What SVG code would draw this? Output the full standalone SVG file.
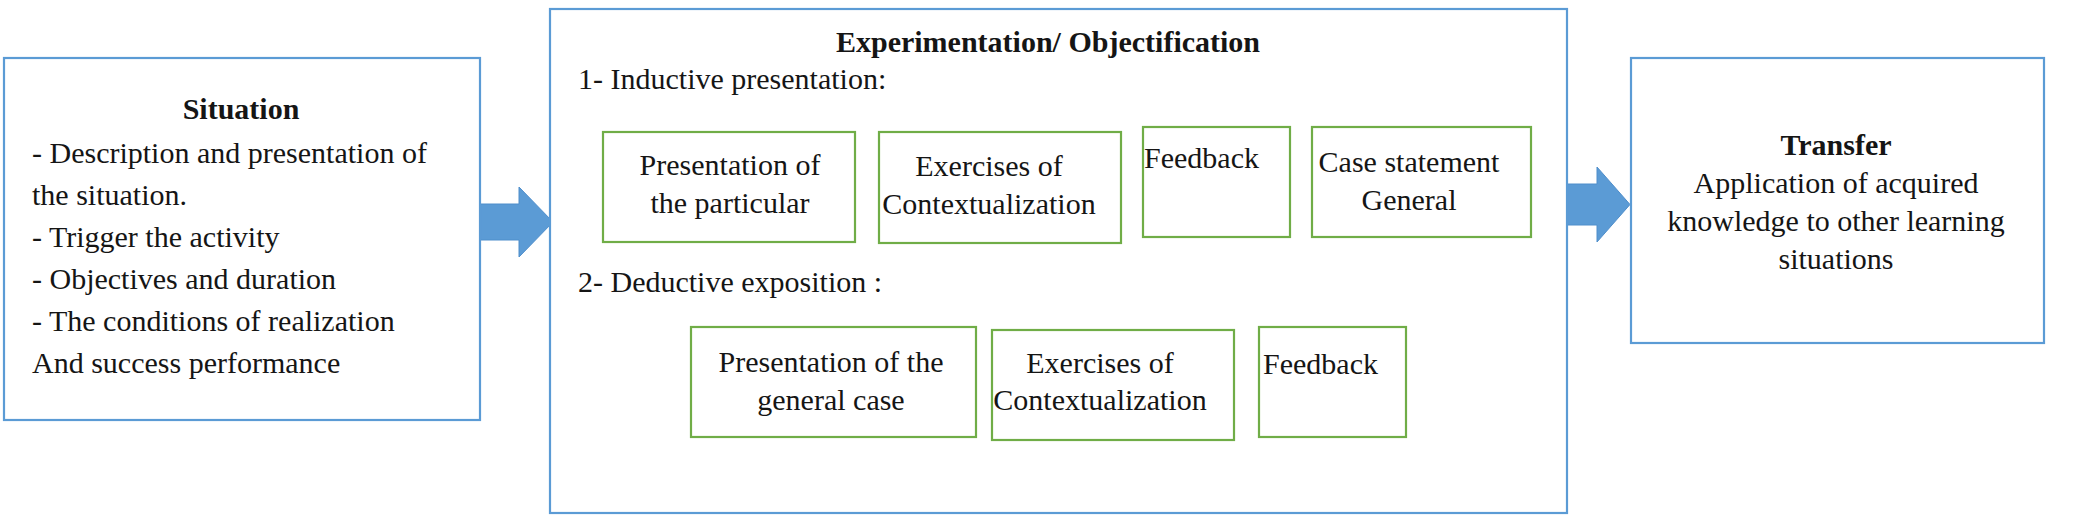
<svg xmlns="http://www.w3.org/2000/svg" width="2082" height="526" viewBox="0 0 2082 526">
<style>
.bg{fill:#ffffff}
.blue{fill:#ffffff;stroke:#5B9BD5;stroke-width:2.2}
.green{fill:#ffffff;stroke:#70AD47;stroke-width:2.2}
.arrow{fill:#5B9BD5;stroke:#4F8ECB;stroke-width:1}
text{font-family:"Liberation Serif","Times New Roman",serif;font-size:30px;fill:#151515}
.b{font-weight:bold}
.m{text-anchor:middle}
</style>
<rect class="bg" x="0" y="0" width="2082" height="526"/>
<g id="connectors">
<polygon class="arrow" points="480,204 519,204 519,187 553,222 519,257 519,240 480,240"/>
<polygon class="arrow" points="1566,184 1597,184 1597,167 1630,204.5 1597,242 1597,225 1566,225"/>
</g>
<g id="situation">
<rect class="blue" x="4" y="58" width="476" height="362"/>
<text class="b m" x="241" y="119">Situation</text>
<text x="32" y="163">- Description and presentation of</text>
<text x="32" y="205">the situation.</text>
<text x="32" y="247">- Trigger the activity</text>
<text x="32" y="289">- Objectives and duration</text>
<text x="32" y="331">- The conditions of realization</text>
<text x="32" y="373">And success performance</text>
</g>
<g id="experimentation">
<rect class="blue" x="550" y="9" width="1017" height="504"/>
<text class="b m" x="1048" y="52">Experimentation/ Objectification</text>
<text x="578" y="89">1- Inductive presentation:</text>
<text x="578" y="292">2- Deductive exposition :</text>
</g>
<g id="ind-presentation">
<rect class="green" x="603" y="132" width="252" height="110"/>
<text class="m" x="730" y="175">Presentation of</text>
<text class="m" x="730" y="213">the particular</text>
</g>
<g id="ind-exercises">
<rect class="green" x="879" y="132" width="242" height="111"/>
<text class="m" x="989" y="176">Exercises of</text>
<text class="m" x="989" y="214">Contextualization</text>
</g>
<g id="ind-feedback">
<rect class="green" x="1143" y="127" width="147" height="110"/>
<text x="1144" y="168">Feedback</text>
</g>
<g id="ind-case">
<rect class="green" x="1312" y="127" width="219" height="110"/>
<text class="m" x="1409" y="172">Case statement</text>
<text class="m" x="1409" y="210">General</text>
</g>
<g id="ded-presentation">
<rect class="green" x="691" y="327" width="285" height="110"/>
<text class="m" x="831" y="372">Presentation of the</text>
<text class="m" x="831" y="410">general case</text>
</g>
<g id="ded-exercises">
<rect class="green" x="992" y="330" width="242" height="110"/>
<text class="m" x="1100" y="373">Exercises of</text>
<text class="m" x="1100" y="410">Contextualization</text>
</g>
<g id="ded-feedback">
<rect class="green" x="1259" y="327" width="147" height="110"/>
<text x="1263" y="374">Feedback</text>
</g>
<g id="transfer">
<rect class="blue" x="1631" y="58" width="413" height="285"/>
<text class="b m" x="1836" y="155">Transfer</text>
<text class="m" x="1836" y="193">Application of acquired</text>
<text class="m" x="1836" y="231">knowledge to other learning</text>
<text class="m" x="1836" y="269">situations</text>
</g>
</svg>
